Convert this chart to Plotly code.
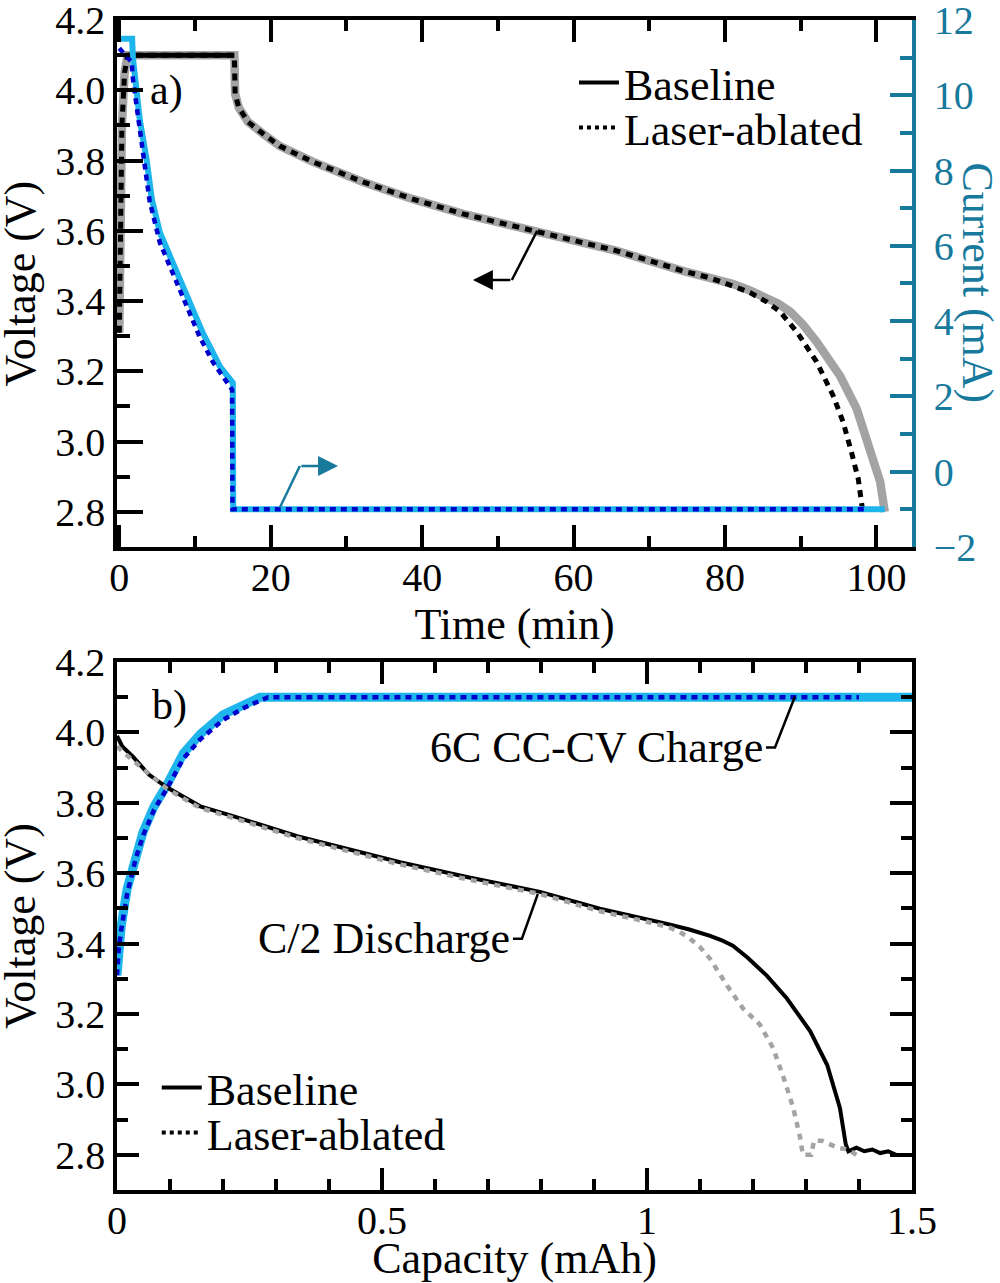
import plotly.graph_objects as go

# ---------------- Panel a: voltage / current vs time ----------------
t_base_v = [0, 0.15, 0.35, 0.7, 1.1, 15.2, 15.3, 15.8, 17.0, 19.0, 21.2, 25.6, 32.2, 38.8, 45.4,
            52.0, 56.5, 65.7, 74.4, 78.0, 81.0, 83.3, 85.5, 87.0, 88.6, 90.3, 92.1, 95.2, 97.4, 99.1, 100.5, 101.1]
v_base = [3.31, 3.6, 3.9, 4.05, 4.1, 4.1, 3.99, 3.95, 3.91, 3.876, 3.841, 3.796, 3.739, 3.69, 3.648,
          3.614, 3.591, 3.543, 3.486, 3.466, 3.449, 3.43, 3.41, 3.393, 3.37, 3.333, 3.284, 3.187, 3.093, 2.988, 2.885, 2.8]

t_laser_v = [0, 0.15, 0.35, 0.7, 1.1, 15.2, 15.3, 15.8, 17.0, 19.0, 21.2, 25.6, 32.2, 38.8, 45.4,
             52.0, 56.5, 65.7, 74.4, 78.0, 81.0, 83.3, 85.5, 87.3, 89.5, 92.1, 94.3, 95.6, 96.7, 97.6, 98.2]
v_laser = [3.31, 3.6, 3.9, 4.05, 4.1, 4.1, 3.99, 3.95, 3.91, 3.876, 3.841, 3.796, 3.739, 3.69, 3.648,
           3.614, 3.591, 3.543, 3.486, 3.466, 3.443, 3.424, 3.398, 3.369, 3.312, 3.227, 3.13, 3.056, 2.97, 2.894, 2.8]

t_base_i = [0, 1.7, 1.8, 2.7, 3.6, 4.3, 5.35, 7.3, 9.05, 11.0, 13.3, 15.0, 15.05, 101.1]
i_base = [11.5, 11.5, 11.0, 9.36, 8.3, 7.24, 6.36, 5.45, 4.57, 3.7, 2.79, 2.36, -1.0, -1.0]

t_laser_i = [0, 1.65, 1.8, 2.3, 2.9, 4.0, 5.35, 6.9, 8.65, 10.6, 12.4, 14.9, 14.95, 98.7]
i_laser = [11.25, 10.88, 10.43, 9.71, 8.65, 7.2, 6.09, 5.37, 4.49, 3.59, 2.9, 2.18, -1.0, -1.0]

# ---------------- Panel b: voltage vs capacity ----------------
cap_chg_base = [0, 0.003, 0.008, 0.019, 0.035, 0.049, 0.07, 0.094, 0.125, 0.157, 0.2, 0.24, 0.27, 1.5]
v_chg_base = [3.31, 3.39, 3.45, 3.555, 3.65, 3.716, 3.79, 3.85, 3.94, 3.995, 4.05, 4.08, 4.1, 4.1]

cap_chg_laser = [0, 0.003, 0.008, 0.019, 0.035, 0.05, 0.07, 0.094, 0.125, 0.157, 0.2, 0.24, 0.27, 0.285, 1.40]
v_chg_laser = [3.31, 3.38, 3.44, 3.54, 3.64, 3.71, 3.78, 3.84, 3.925, 3.98, 4.035, 4.07, 4.09, 4.1, 4.1]

cap_dis_base = [0, 0.01, 0.03, 0.06, 0.094, 0.157, 0.219, 0.34, 0.534, 0.66, 0.798, 0.911, 1.038,
                1.08, 1.119, 1.14, 1.162, 1.19, 1.226, 1.264, 1.308, 1.34, 1.364, 1.375, 1.38, 1.395,
                1.41, 1.425, 1.44, 1.455, 1.47]
v_dis_base = [3.99, 3.96, 3.931, 3.88, 3.844, 3.79, 3.762, 3.705, 3.631, 3.589, 3.547, 3.499, 3.456,
              3.44, 3.422, 3.41, 3.394, 3.36, 3.309, 3.244, 3.151, 3.055, 2.933, 2.83, 2.81, 2.82,
              2.81, 2.815, 2.805, 2.81, 2.80]

cap_dis_laser = [0, 0.03, 0.094, 0.157, 0.219, 0.34, 0.534, 0.66, 0.798, 0.911, 1.0, 1.038, 1.06, 1.081,
                 1.10, 1.119, 1.151, 1.181, 1.213, 1.238, 1.26, 1.276, 1.289, 1.294, 1.31, 1.315, 1.33,
                 1.36, 1.38, 1.395]
v_dis_laser = [3.96, 3.92, 3.84, 3.785, 3.757, 3.70, 3.625, 3.583, 3.541, 3.492, 3.462, 3.448, 3.435, 3.414,
               3.39, 3.357, 3.281, 3.216, 3.17, 3.103, 3.009, 2.933, 2.848, 2.80, 2.80, 2.84, 2.84,
               2.82, 2.815, 2.80]

legend_names = ["Baseline", "Laser-ablated"]

GRAY = "#a3a3a3"
LBLUE = "#1eb4ec"
DBLUE = "#0000cc"
TEAL = "#17799c"
FONT = "Liberation Serif"
FS = 40      # tick labels
FL = 44      # titles, legend, annotations

fig = go.Figure()

# Panel a traces
fig.add_trace(go.Scatter(x=t_base_v, y=v_base, mode="lines", line=dict(color=GRAY, width=8.5),
                         xaxis="x", yaxis="y", showlegend=False))
fig.add_trace(go.Scatter(x=t_laser_v, y=v_laser, mode="lines",
                         line=dict(color="black", width=5, dash="7px,6px"),
                         xaxis="x", yaxis="y", showlegend=False))
# constant-voltage hold of the charge step (drawn solid)
hold_t = [t for t, v in zip(t_laser_v, v_laser) if v >= 4.1 and t <= 15.2]
hold_v = [v for t, v in zip(t_laser_v, v_laser) if v >= 4.1 and t <= 15.2]
fig.add_trace(go.Scatter(x=hold_t, y=hold_v, mode="lines", line=dict(color="black", width=5),
                         xaxis="x", yaxis="y", showlegend=False))
fig.add_trace(go.Scatter(x=t_base_i, y=i_base, mode="lines", line=dict(color=LBLUE, width=6),
                         xaxis="x", yaxis="y3", showlegend=False))
fig.add_trace(go.Scatter(x=t_laser_i, y=i_laser, mode="lines",
                         line=dict(color=DBLUE, width=4.5, dash="6px,5px"),
                         xaxis="x", yaxis="y3", showlegend=False))

# Panel b traces
fig.add_trace(go.Scatter(x=cap_chg_base, y=v_chg_base, mode="lines", line=dict(color=LBLUE, width=9),
                         xaxis="x2", yaxis="y2", showlegend=False))
fig.add_trace(go.Scatter(x=cap_chg_laser, y=v_chg_laser, mode="lines",
                         line=dict(color=DBLUE, width=4.5, dash="6px,5px"),
                         xaxis="x2", yaxis="y2", showlegend=False))
fig.add_trace(go.Scatter(x=cap_dis_base, y=v_dis_base, mode="lines", line=dict(color="black", width=4),
                         xaxis="x2", yaxis="y2", showlegend=False))
fig.add_trace(go.Scatter(x=cap_dis_laser, y=v_dis_laser, mode="lines",
                         line=dict(color=GRAY, width=4.5, dash="6px,6px"),
                         xaxis="x2", yaxis="y2", showlegend=False))

# Legend entries (one single-entry legend per row so that rows sit where the reference has them)
legend_rows = [("legend", "x", "y", 0), ("legend2", "x", "y", 1),
               ("legend3", "x2", "y2", 0), ("legend4", "x2", "y2", 1)]
for lg, xa, ya, k in legend_rows:
    dash = "solid" if k == 0 else "4px,4px"
    fig.add_trace(go.Scatter(x=[None], y=[None], mode="lines", line=dict(color="black", width=4, dash=dash),
                             name=legend_names[k], legend=lg, xaxis=xa, yaxis=ya))

tickfont = dict(family=FONT, size=FS, color="black")
titlefont = dict(family=FONT, size=FL, color="black")

def ax(**kw):
    base = dict(showline=True, linecolor="black", linewidth=3.5, ticks="inside", ticklen=22,
                tickwidth=3.5, tickcolor="black", showgrid=False, zeroline=False, tickfont=tickfont,
                automargin=False, ticklabeloverflow="allow")
    base.update(kw)
    return base

def leg(x, y):
    return dict(x=x, y=y, xanchor="left", yanchor="middle", bgcolor="rgba(0,0,0,0)",
                font=dict(family=FONT, size=FL, color="black"), itemwidth=40, borderwidth=0)

fig.update_layout(
    template="none",
    width=1000, height=1283,
    margin=dict(l=117, r=88, t=20, b=93, autoexpand=False),
    paper_bgcolor="white", plot_bgcolor="white",
    font=dict(family=FONT, size=FS, color="black"),
    xaxis=ax(domain=[0, 1], range=[-0.3, 104.7], anchor="y", mirror="ticks", dtick=20, tick0=0,
             ticklabelstandoff=-8,
             minor=dict(dtick=10, ticklen=11, tickwidth=3.5, ticks="inside", tickcolor="black"),
             title=dict(text="Time (min)", font=titlefont, standoff=0)),
    yaxis=ax(domain=[0.5496, 1], range=[2.7, 4.2], anchor="x", dtick=0.2, tick0=2.8, tickformat=".1f",
             ticklen=26, minor=dict(dtick=0.1, ticklen=13, tickwidth=3.5, ticks="inside", tickcolor="black")),
    yaxis3=ax(overlaying="y", side="right", anchor="x", range=[-2, 12], dtick=2, tick0=0,
              ticklabelstandoff=10,
              linecolor=TEAL, tickcolor=TEAL, tickfont=dict(family=FONT, size=FS, color=TEAL),
              minor=dict(dtick=1, ticklen=12, tickwidth=3.5, ticks="inside", tickcolor=TEAL)),
    xaxis2=ax(domain=[0, 1], range=[0, 1.5], anchor="y2", mirror="ticks", dtick=0.5, tick0=0,
              ticklabelstandoff=-8,
              minor=dict(dtick=0.1, ticklen=11, tickwidth=3.5, ticks="inside", tickcolor="black"),
              title=dict(text="Capacity (mAh)", font=titlefont, standoff=2)),
    yaxis2=ax(domain=[0, 0.4513], range=[2.7, 4.2], anchor="x2", mirror="ticks", dtick=0.2, tick0=2.8,
              tickformat=".1f",
              minor=dict(dtick=0.1, ticklen=11, tickwidth=3.5, ticks="inside", tickcolor="black")),
    legend=leg(0.5748, 0.9462),
    legend2=leg(0.5748, 0.9077),
    legend3=leg(0.05, 0.0872),
    legend4=leg(0.05, 0.0487),
)

annotations = [
    # vertical axis titles
    dict(text="Voltage (V)", x=-0.1208, y=0.7748, xref="paper", yref="paper", xanchor="center",
         yanchor="middle", textangle=-90, showarrow=False, font=titlefont),
    dict(text="Voltage (V)", x=-0.1208, y=0.2257, xref="paper", yref="paper", xanchor="center",
         yanchor="middle", textangle=-90, showarrow=False, font=titlefont),
    dict(text="Current (mA)", x=1.083, y=0.7748, xref="paper", yref="paper", xanchor="center",
         yanchor="middle", textangle=90, showarrow=False, font=dict(family=FONT, size=FL, color=TEAL)),
    dict(text="a)", x=3.8, y=4.0, xref="x", yref="y", xanchor="left", yanchor="middle",
         showarrow=False, bgcolor="white", font=dict(family=FONT, size=42, color="black")),
    dict(text="b)", x=0.062, y=4.076, xref="x2", yref="y2", xanchor="left", yanchor="middle",
         showarrow=False, font=dict(family=FONT, size=42, color="black")),
    dict(text="6C CC-CV Charge", x=1.2226, y=3.957, xref="x2", yref="y2", xanchor="right", yanchor="middle",
         showarrow=False, font=dict(family=FONT, size=FL, color="black")),
    dict(text="C/2 Discharge", x=0.745, y=3.414, xref="x2", yref="y2", xanchor="right", yanchor="middle",
         showarrow=False, font=dict(family=FONT, size=FL, color="black")),
    # voltage-axis arrow (panel a)
    dict(text="", x=46.7, y=3.46, ax=51.85, ay=3.46, xref="x", yref="y", axref="x", ayref="y",
         showarrow=True, arrowhead=2, arrowsize=1.6, arrowwidth=2.5, arrowcolor="black"),
    # current-axis arrow (panel a)
    dict(text="", x=28.9, y=0.15, ax=23.85, ay=0.15, xref="x", yref="y3", axref="x", ayref="y3",
         showarrow=True, arrowhead=2, arrowsize=1.6, arrowwidth=2.5, arrowcolor=TEAL),
]
fig.update_layout(annotations=annotations)

shapes = [
    dict(type="path", path="M 55.2,3.6 L 51.85,3.46", xref="x", yref="y",
         line=dict(color="black", width=2.5)),
    dict(type="path", path="M 21.2,-0.96 L 23.85,0.15", xref="x", yref="y3",
         line=dict(color=TEAL, width=2.5)),
    dict(type="path", path="M 1.2245,3.957 L 1.2415,3.957 L 1.279,4.101", xref="x2", yref="y2",
         line=dict(color="black", width=2.5)),
    dict(type="path", path="M 0.747,3.414 L 0.764,3.414 L 0.794,3.541", xref="x2", yref="y2",
         line=dict(color="black", width=2.5)),
]
fig.update_layout(shapes=shapes)

fig.write_html("out.html")
